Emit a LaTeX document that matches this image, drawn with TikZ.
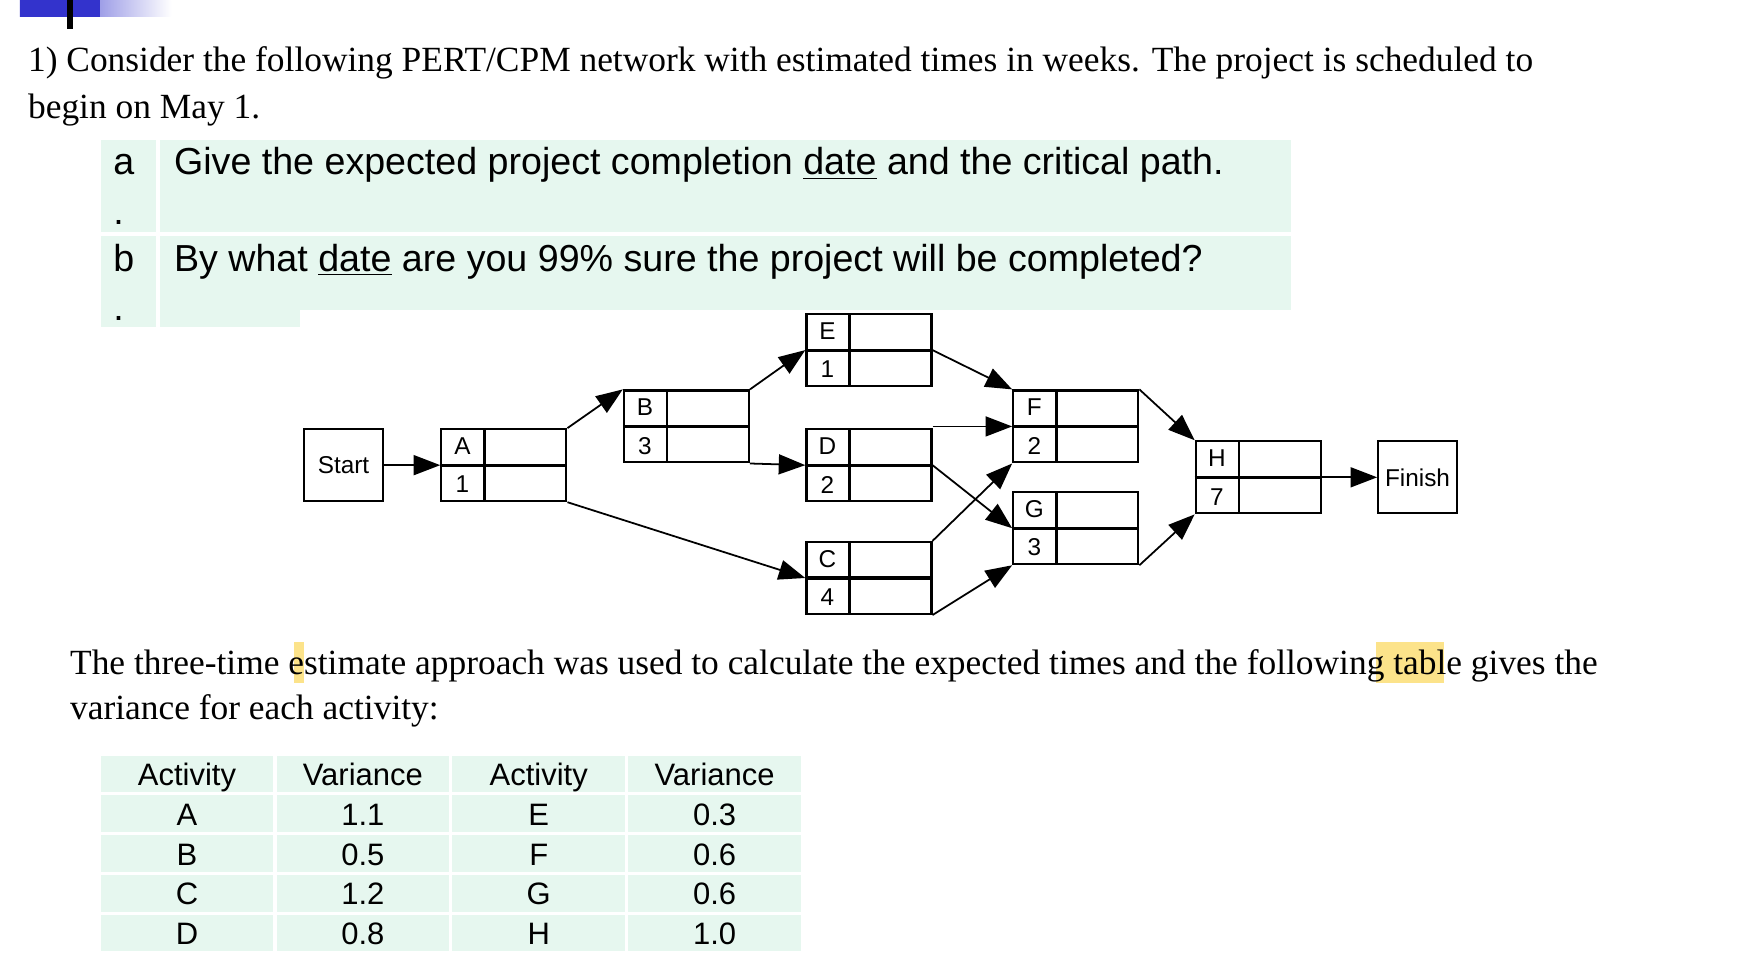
\documentclass[tikz,border=0pt]{standalone}
\usepackage{fontspec}
\setmainfont{Liberation Serif}
\newfontfamily\arial{Liberation Sans}
\usetikzlibrary{arrows.meta}
\definecolor{lg}{HTML}{E6F7EF}
\definecolor{hl}{HTML}{FCE38A}
\newcommand\actbox[5]{%
 \node[draw, line width=1pt, minimum width=56.5pt, minimum height=32.5pt, anchor=north west, inner sep=0pt] (#1) at (#2,#3) {};
 \draw[line width=1pt] ([xshift=20pt]#1.north west) -- ([xshift=20pt]#1.south west);
 \draw[line width=1.4pt] (#1.west) -- (#1.east);
 \node[lbl] (#1l) at ([xshift=10pt,yshift=-8pt]#1.north west) {#4};
 \node[lbl] (#1n) at ([xshift=10pt,yshift=8pt]#1.south west) {#5};
}
\begin{document}
\begin{tikzpicture}[x=0.5pt,y=-0.5pt,
 lbl/.style={font=\arial\fontsize{11}{13}\selectfont, inner sep=0pt},
 serif/.style={font=\fontsize{16}{19}\selectfont, anchor=base west, inner sep=0pt},
 q/.style={font=\arial\fontsize{17}{20}\selectfont, anchor=base west, inner sep=0pt},
 cell/.style={fill=lg, draw=none},
 tc/.style={font=\arial\fontsize{14}{16}\selectfont, inner sep=0pt},
 arr/.style={line width=0.8pt, -{Triangle[length=12pt,width=9pt]}},
 ln/.style={line width=0.8pt}]
\useasboundingbox (0,0) rectangle (1573,885);
% top bar
\shade[left color=blue!75!black!80, right color=white] (18,0) rectangle (155,15);
\fill[blue!75!black!80] (18,0) rectangle (90,15);
\fill[black] (61,0) rectangle (66,26);
% intro
\node[serif] (t1) at (25,65) {1) Consider the following PERT/CPM network with estimated times in weeks. The project is scheduled to};
\node[serif] (t2) at (25,107) {begin on May 1.};
% question table
\fill[lg] (91,127) rectangle (141,210);
\fill[lg] (145,127) rectangle (1167,210);
\fill[lg] (91,213) rectangle (141,296);
\fill[lg] (145,213) rectangle (1167,280);
\fill[lg] (145,280) rectangle (271,296);
\node[q] (qa) at (102,158) {a};
\node[q] (qad) at (102,203) {.};
\node[q] (qat) at (157,158) {Give the expected project completion \underline{date} and the critical path.};
\node[q] (qb) at (102,245) {b};
\node[q] (qbd) at (102,290) {.};
\node[q] (qbt) at (157,245) {By what \underline{date} are you 99\% sure the project will be completed?};
% network
\node[draw, line width=1pt, minimum width=35.5pt, minimum height=32.5pt, anchor=north west, inner sep=0pt, font=\arial\fontsize{11}{13}\selectfont] (S) at (274,387) {Start};
\actbox{A}{398}{387}{A}{1}
\actbox{B}{563}{352}{B}{3}
\actbox{E}{728}{283}{E}{1}
\actbox{D}{728}{387}{D}{2}
\actbox{C}{728}{489}{C}{4}
\actbox{F}{915}{352}{F}{2}
\actbox{G}{915}{444}{G}{3}
\actbox{H}{1080}{398}{H}{7}
\node[draw, line width=1pt, minimum width=35.5pt, minimum height=32.5pt, anchor=north west, inner sep=0pt, font=\arial\fontsize{11}{13}\selectfont] (Fin) at (1245,398) {Finish};
\draw[arr] (S.east) -- (A.west);
\draw[arr] (A.north east) -- (B.north west);
\draw[arr] (A.south east) -- (C.west);
\draw[arr] (B.north east) -- (E.west);
\draw[arr] (B.south east) -- (D.west);
\draw[arr] (E.east) -- (F.north west);
\draw[arr] (D.north east |- F.west) -- (F.west);
\draw[arr] (D.east) -- (G.west);
\draw[arr] (C.north east) -- (F.south west);
\draw[arr] (C.south east) -- (G.south west);
\draw[arr] (F.north east) -- (H.north west);
\draw[arr] (G.south east) -- (H.south west);
\draw[arr] (H.east) -- (Fin.west);
% paragraph
\fill[hl] (266,580) rectangle (275,617);
\fill[hl] (1244,580) rectangle (1305,617);
\node[serif] (p1) at (63,610) {The three-time estimate approach was used to calculate the expected times and the following table gives the};
\node[serif] (p2) at (63,650) {variance for each activity:};
% variance table
\foreach \x/\xx [count=\i] in {91/247,250/406,409/565,568/724}{
 \foreach \y/\yy in {683/716,719/752,755/788,791/824,827/860}{
  \fill[lg] (\x,\y) rectangle (\xx,\yy);
 }
}
\foreach \cx/\col in {169/{Activity,A,B,C,D},328/{Variance,1.1,0.5,1.2,0.8},487/{Activity,E,F,G,H},646/{Variance,0.3,0.6,0.6,1.0}}{
 \foreach \t [count=\r] in \col {
  \node[tc, anchor=base] (c\cx r\r) at (\cx,{674+36*\r}) {\t};
 }
}
\end{tikzpicture}
\end{document}
